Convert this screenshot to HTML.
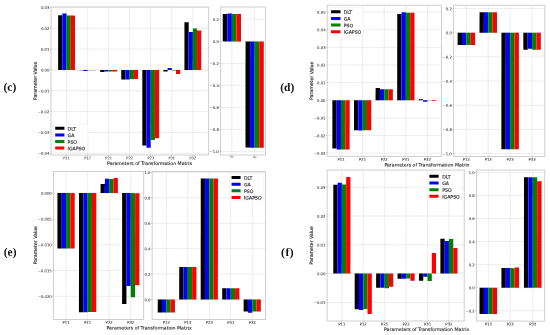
<!DOCTYPE html>
<html lang="en"><head><meta charset="utf-8"><title>Parameters of Transformation Matrix</title>
<style>
html,body{margin:0;padding:0;background:#fff;}
body{width:550px;height:335px;overflow:hidden;}
svg{display:block;}
svg text{font-family:"DejaVu Sans","Liberation Sans",sans-serif;fill:#2e2e2e;text-rendering:geometricPrecision;stroke:#2e2e2e;stroke-width:0.14px;}
svg text.tk{stroke:#333;stroke-width:0.06px;fill:#333;}
svg text.pl{font-family:"Liberation Serif","DejaVu Serif",serif;font-weight:bold;font-size:11.5px;fill:#111;stroke:none;}
</style></head><body>
<svg width="550" height="335" viewBox="0 0 550 335">
<rect width="550" height="335" fill="#fff"/>
<g transform="rotate(0.03 275 167)">
<g><line x1="66.5" y1="7" x2="66.5" y2="155" stroke="#e9e9e9" stroke-width="0.8"/>
<line x1="87.55" y1="7" x2="87.55" y2="155" stroke="#e9e9e9" stroke-width="0.8"/>
<line x1="108.6" y1="7" x2="108.6" y2="155" stroke="#e9e9e9" stroke-width="0.8"/>
<line x1="129.65" y1="7" x2="129.65" y2="155" stroke="#e9e9e9" stroke-width="0.8"/>
<line x1="150.7" y1="7" x2="150.7" y2="155" stroke="#e9e9e9" stroke-width="0.8"/>
<line x1="171.75" y1="7" x2="171.75" y2="155" stroke="#e9e9e9" stroke-width="0.8"/>
<line x1="192.8" y1="7" x2="192.8" y2="155" stroke="#e9e9e9" stroke-width="0.8"/>
<line x1="51" y1="7.51" x2="208.6" y2="7.51" stroke="#e9e9e9" stroke-width="0.8"/>
<line x1="51" y1="28.34" x2="208.6" y2="28.34" stroke="#e9e9e9" stroke-width="0.8"/>
<line x1="51" y1="49.17" x2="208.6" y2="49.17" stroke="#e9e9e9" stroke-width="0.8"/>
<line x1="51" y1="70" x2="208.6" y2="70" stroke="#e9e9e9" stroke-width="0.8"/>
<line x1="51" y1="90.83" x2="208.6" y2="90.83" stroke="#e9e9e9" stroke-width="0.8"/>
<line x1="51" y1="111.66" x2="208.6" y2="111.66" stroke="#e9e9e9" stroke-width="0.8"/>
<line x1="51" y1="132.49" x2="208.6" y2="132.49" stroke="#e9e9e9" stroke-width="0.8"/>
<line x1="51" y1="153.32" x2="208.6" y2="153.32" stroke="#e9e9e9" stroke-width="0.8"/>
<rect x="58.08" y="15.4" width="4.21" height="54.6" fill="#000000"/>
<rect x="62.29" y="13.6" width="4.21" height="56.4" fill="#0000ff"/>
<rect x="66.5" y="15.6" width="4.21" height="54.4" fill="#008000"/>
<rect x="70.71" y="15.6" width="4.21" height="54.4" fill="#ff0000"/>
<rect x="79.13" y="70" width="4.21" height="0.25" fill="#000000"/>
<rect x="83.34" y="70" width="4.21" height="1.2" fill="#0000ff"/>
<rect x="87.55" y="70" width="4.21" height="0.45" fill="#008000"/>
<rect x="91.76" y="70" width="4.21" height="0.45" fill="#ff0000"/>
<rect x="100.18" y="70" width="4.21" height="2" fill="#000000"/>
<rect x="104.39" y="70" width="4.21" height="1.6" fill="#0000ff"/>
<rect x="108.6" y="70" width="4.21" height="1.6" fill="#008000"/>
<rect x="112.81" y="70" width="4.21" height="1.6" fill="#ff0000"/>
<rect x="121.23" y="70" width="4.21" height="9.6" fill="#000000"/>
<rect x="125.44" y="70" width="4.21" height="9.6" fill="#0000ff"/>
<rect x="129.65" y="70" width="4.21" height="9.2" fill="#008000"/>
<rect x="133.86" y="70" width="4.21" height="9" fill="#ff0000"/>
<rect x="142.28" y="70" width="4.21" height="75.6" fill="#000000"/>
<rect x="146.49" y="70" width="4.21" height="77.8" fill="#0000ff"/>
<rect x="150.7" y="70" width="4.21" height="70" fill="#008000"/>
<rect x="154.91" y="70" width="4.21" height="68.2" fill="#ff0000"/>
<rect x="163.33" y="70" width="4.21" height="1.5" fill="#000000"/>
<rect x="167.54" y="68" width="4.21" height="2" fill="#0000ff"/>
<rect x="171.75" y="70" width="4.21" height="0.5" fill="#008000"/>
<rect x="175.96" y="70" width="4.21" height="4" fill="#ff0000"/>
<rect x="184.38" y="22.4" width="4.21" height="47.6" fill="#000000"/>
<rect x="188.59" y="32" width="4.21" height="38" fill="#0000ff"/>
<rect x="192.8" y="28.6" width="4.21" height="41.4" fill="#008000"/>
<rect x="197.01" y="30.6" width="4.21" height="39.4" fill="#ff0000"/>
<rect x="51" y="7" width="157.6" height="148" fill="none" stroke="#cfcfcf" stroke-width="1"/>
<line x1="49.6" y1="7.51" x2="51" y2="7.51" stroke="#999" stroke-width="0.4"/>
<text x="49.3" y="9.18" class="tk" font-size="3.8" text-anchor="end">0.03</text>
<line x1="49.6" y1="28.34" x2="51" y2="28.34" stroke="#999" stroke-width="0.4"/>
<text x="49.3" y="30.01" class="tk" font-size="3.8" text-anchor="end">0.02</text>
<line x1="49.6" y1="49.17" x2="51" y2="49.17" stroke="#999" stroke-width="0.4"/>
<text x="49.3" y="50.84" class="tk" font-size="3.8" text-anchor="end">0.01</text>
<line x1="49.6" y1="70" x2="51" y2="70" stroke="#999" stroke-width="0.4"/>
<text x="49.3" y="71.67" class="tk" font-size="3.8" text-anchor="end">0.00</text>
<line x1="49.6" y1="90.83" x2="51" y2="90.83" stroke="#999" stroke-width="0.4"/>
<text x="49.3" y="92.5" class="tk" font-size="3.8" text-anchor="end">−0.01</text>
<line x1="49.6" y1="111.66" x2="51" y2="111.66" stroke="#999" stroke-width="0.4"/>
<text x="49.3" y="113.33" class="tk" font-size="3.8" text-anchor="end">−0.02</text>
<line x1="49.6" y1="132.49" x2="51" y2="132.49" stroke="#999" stroke-width="0.4"/>
<text x="49.3" y="134.16" class="tk" font-size="3.8" text-anchor="end">−0.03</text>
<line x1="49.6" y1="153.32" x2="51" y2="153.32" stroke="#999" stroke-width="0.4"/>
<text x="49.3" y="154.99" class="tk" font-size="3.8" text-anchor="end">−0.04</text>
<line x1="66.5" y1="155" x2="66.5" y2="156.4" stroke="#999" stroke-width="0.4"/>
<text x="66.5" y="159.31" class="tk" font-size="3.5" text-anchor="middle">P11</text>
<line x1="87.55" y1="155" x2="87.55" y2="156.4" stroke="#999" stroke-width="0.4"/>
<text x="87.55" y="159.31" class="tk" font-size="3.5" text-anchor="middle">P12</text>
<line x1="108.6" y1="155" x2="108.6" y2="156.4" stroke="#999" stroke-width="0.4"/>
<text x="108.6" y="159.31" class="tk" font-size="3.5" text-anchor="middle">P21</text>
<line x1="129.65" y1="155" x2="129.65" y2="156.4" stroke="#999" stroke-width="0.4"/>
<text x="129.65" y="159.31" class="tk" font-size="3.5" text-anchor="middle">P22</text>
<line x1="150.7" y1="155" x2="150.7" y2="156.4" stroke="#999" stroke-width="0.4"/>
<text x="150.7" y="159.31" class="tk" font-size="3.5" text-anchor="middle">P23</text>
<line x1="171.75" y1="155" x2="171.75" y2="156.4" stroke="#999" stroke-width="0.4"/>
<text x="171.75" y="159.31" class="tk" font-size="3.5" text-anchor="middle">P31</text>
<line x1="192.8" y1="155" x2="192.8" y2="156.4" stroke="#999" stroke-width="0.4"/>
<text x="192.8" y="159.31" class="tk" font-size="3.5" text-anchor="middle">P32</text>
<rect x="53.4" y="124.4" width="34.6" height="28.2" rx="1" fill="#fff" fill-opacity="0.85" stroke="#ececec" stroke-width="0.5"/>
<rect x="55.2" y="126.9" width="9.2" height="3" fill="#000000"/>
<text x="67.6" y="130.58" font-size="4.68">DLT</text>
<rect x="55.2" y="133.5" width="9.2" height="3" fill="#0000ff"/>
<text x="67.6" y="137.18" font-size="4.68">GA</text>
<rect x="55.2" y="140.1" width="9.2" height="3" fill="#008000"/>
<text x="67.6" y="143.78" font-size="4.68">PSO</text>
<rect x="55.2" y="146.7" width="9.2" height="3" fill="#ff0000"/>
<text x="67.6" y="150.38" font-size="4.68">IGAPSO</text></g>
<g><line x1="231.8" y1="7" x2="231.8" y2="155" stroke="#e9e9e9" stroke-width="0.8"/>
<line x1="254.6" y1="7" x2="254.6" y2="155" stroke="#e9e9e9" stroke-width="0.8"/>
<line x1="220.5" y1="19.4" x2="265.5" y2="19.4" stroke="#e9e9e9" stroke-width="0.8"/>
<line x1="220.5" y1="41.4" x2="265.5" y2="41.4" stroke="#e9e9e9" stroke-width="0.8"/>
<line x1="220.5" y1="63.4" x2="265.5" y2="63.4" stroke="#e9e9e9" stroke-width="0.8"/>
<line x1="220.5" y1="85.4" x2="265.5" y2="85.4" stroke="#e9e9e9" stroke-width="0.8"/>
<line x1="220.5" y1="107.4" x2="265.5" y2="107.4" stroke="#e9e9e9" stroke-width="0.8"/>
<line x1="220.5" y1="129.4" x2="265.5" y2="129.4" stroke="#e9e9e9" stroke-width="0.8"/>
<line x1="220.5" y1="151.4" x2="265.5" y2="151.4" stroke="#e9e9e9" stroke-width="0.8"/>
<rect x="222.68" y="14" width="4.56" height="27.4" fill="#000000"/>
<rect x="227.24" y="13.6" width="4.56" height="27.8" fill="#0000ff"/>
<rect x="231.8" y="14" width="4.56" height="27.4" fill="#008000"/>
<rect x="236.36" y="14" width="4.56" height="27.4" fill="#ff0000"/>
<rect x="245.48" y="41.4" width="4.56" height="106.2" fill="#000000"/>
<rect x="250.04" y="41.4" width="4.56" height="106.4" fill="#0000ff"/>
<rect x="254.6" y="41.4" width="4.56" height="106.4" fill="#008000"/>
<rect x="259.16" y="41.4" width="4.56" height="106.4" fill="#ff0000"/>
<rect x="220.5" y="7" width="45" height="148" fill="none" stroke="#cfcfcf" stroke-width="1"/>
<line x1="219.1" y1="19.4" x2="220.5" y2="19.4" stroke="#999" stroke-width="0.4"/>
<text x="218.8" y="21.07" class="tk" font-size="3.8" text-anchor="end">0.2</text>
<line x1="219.1" y1="41.4" x2="220.5" y2="41.4" stroke="#999" stroke-width="0.4"/>
<text x="218.8" y="43.07" class="tk" font-size="3.8" text-anchor="end">0.0</text>
<line x1="219.1" y1="63.4" x2="220.5" y2="63.4" stroke="#999" stroke-width="0.4"/>
<text x="218.8" y="65.07" class="tk" font-size="3.8" text-anchor="end">−0.2</text>
<line x1="219.1" y1="85.4" x2="220.5" y2="85.4" stroke="#999" stroke-width="0.4"/>
<text x="218.8" y="87.07" class="tk" font-size="3.8" text-anchor="end">−0.4</text>
<line x1="219.1" y1="107.4" x2="220.5" y2="107.4" stroke="#999" stroke-width="0.4"/>
<text x="218.8" y="109.07" class="tk" font-size="3.8" text-anchor="end">−0.6</text>
<line x1="219.1" y1="129.4" x2="220.5" y2="129.4" stroke="#999" stroke-width="0.4"/>
<text x="218.8" y="131.07" class="tk" font-size="3.8" text-anchor="end">−0.8</text>
<line x1="219.1" y1="151.4" x2="220.5" y2="151.4" stroke="#999" stroke-width="0.4"/>
<text x="218.8" y="153.07" class="tk" font-size="3.8" text-anchor="end">−1.0</text>
<line x1="231.8" y1="155" x2="231.8" y2="156.4" stroke="#999" stroke-width="0.4"/>
<text x="231.8" y="157.65" class="tk" font-size="1.8" text-anchor="middle">P13</text>
<line x1="254.6" y1="155" x2="254.6" y2="156.4" stroke="#999" stroke-width="0.4"/>
<text x="254.6" y="157.65" class="tk" font-size="1.8" text-anchor="middle">P33</text></g>
<g><line x1="341" y1="5.2" x2="341" y2="156.3" stroke="#e9e9e9" stroke-width="0.8"/>
<line x1="362.6" y1="5.2" x2="362.6" y2="156.3" stroke="#e9e9e9" stroke-width="0.8"/>
<line x1="384.2" y1="5.2" x2="384.2" y2="156.3" stroke="#e9e9e9" stroke-width="0.8"/>
<line x1="405.8" y1="5.2" x2="405.8" y2="156.3" stroke="#e9e9e9" stroke-width="0.8"/>
<line x1="427.4" y1="5.2" x2="427.4" y2="156.3" stroke="#e9e9e9" stroke-width="0.8"/>
<line x1="327.2" y1="12" x2="441.4" y2="12" stroke="#e9e9e9" stroke-width="0.8"/>
<line x1="327.2" y1="29.64" x2="441.4" y2="29.64" stroke="#e9e9e9" stroke-width="0.8"/>
<line x1="327.2" y1="47.28" x2="441.4" y2="47.28" stroke="#e9e9e9" stroke-width="0.8"/>
<line x1="327.2" y1="64.92" x2="441.4" y2="64.92" stroke="#e9e9e9" stroke-width="0.8"/>
<line x1="327.2" y1="82.56" x2="441.4" y2="82.56" stroke="#e9e9e9" stroke-width="0.8"/>
<line x1="327.2" y1="100.2" x2="441.4" y2="100.2" stroke="#e9e9e9" stroke-width="0.8"/>
<line x1="327.2" y1="117.84" x2="441.4" y2="117.84" stroke="#e9e9e9" stroke-width="0.8"/>
<line x1="327.2" y1="135.48" x2="441.4" y2="135.48" stroke="#e9e9e9" stroke-width="0.8"/>
<line x1="327.2" y1="153.12" x2="441.4" y2="153.12" stroke="#e9e9e9" stroke-width="0.8"/>
<rect x="332.36" y="100.2" width="4.32" height="48.2" fill="#000000"/>
<rect x="336.68" y="100.2" width="4.32" height="49.2" fill="#0000ff"/>
<rect x="341" y="100.2" width="4.32" height="49.2" fill="#008000"/>
<rect x="345.32" y="100.2" width="4.32" height="49.2" fill="#ff0000"/>
<rect x="353.96" y="100.2" width="4.32" height="30" fill="#000000"/>
<rect x="358.28" y="100.2" width="4.32" height="30.2" fill="#0000ff"/>
<rect x="362.6" y="100.2" width="4.32" height="30" fill="#008000"/>
<rect x="366.92" y="100.2" width="4.32" height="30" fill="#ff0000"/>
<rect x="375.56" y="88" width="4.32" height="12.2" fill="#000000"/>
<rect x="379.88" y="89.2" width="4.32" height="11" fill="#0000ff"/>
<rect x="384.2" y="89.2" width="4.32" height="11" fill="#008000"/>
<rect x="388.52" y="89.2" width="4.32" height="11" fill="#ff0000"/>
<rect x="397.16" y="14" width="4.32" height="86.2" fill="#000000"/>
<rect x="401.48" y="12.2" width="4.32" height="88" fill="#0000ff"/>
<rect x="405.8" y="12.6" width="4.32" height="87.6" fill="#008000"/>
<rect x="410.12" y="12.6" width="4.32" height="87.6" fill="#ff0000"/>
<rect x="418.76" y="99.2" width="4.32" height="1" fill="#000000"/>
<rect x="423.08" y="100.2" width="4.32" height="1.4" fill="#0000ff"/>
<rect x="427.4" y="100.2" width="4.32" height="0.1" fill="#008000"/>
<rect x="431.72" y="100.2" width="4.32" height="0.8" fill="#ff0000"/>
<rect x="327.2" y="5.2" width="114.2" height="151.1" fill="none" stroke="#cfcfcf" stroke-width="1"/>
<line x1="325.8" y1="12" x2="327.2" y2="12" stroke="#999" stroke-width="0.4"/>
<text x="325.5" y="13.67" class="tk" font-size="3.8" text-anchor="end">0.05</text>
<line x1="325.8" y1="29.64" x2="327.2" y2="29.64" stroke="#999" stroke-width="0.4"/>
<text x="325.5" y="31.31" class="tk" font-size="3.8" text-anchor="end">0.04</text>
<line x1="325.8" y1="47.28" x2="327.2" y2="47.28" stroke="#999" stroke-width="0.4"/>
<text x="325.5" y="48.95" class="tk" font-size="3.8" text-anchor="end">0.03</text>
<line x1="325.8" y1="64.92" x2="327.2" y2="64.92" stroke="#999" stroke-width="0.4"/>
<text x="325.5" y="66.59" class="tk" font-size="3.8" text-anchor="end">0.02</text>
<line x1="325.8" y1="82.56" x2="327.2" y2="82.56" stroke="#999" stroke-width="0.4"/>
<text x="325.5" y="84.23" class="tk" font-size="3.8" text-anchor="end">0.01</text>
<line x1="325.8" y1="100.2" x2="327.2" y2="100.2" stroke="#999" stroke-width="0.4"/>
<text x="325.5" y="101.87" class="tk" font-size="3.8" text-anchor="end">0.00</text>
<line x1="325.8" y1="117.84" x2="327.2" y2="117.84" stroke="#999" stroke-width="0.4"/>
<text x="325.5" y="119.51" class="tk" font-size="3.8" text-anchor="end">−0.01</text>
<line x1="325.8" y1="135.48" x2="327.2" y2="135.48" stroke="#999" stroke-width="0.4"/>
<text x="325.5" y="137.15" class="tk" font-size="3.8" text-anchor="end">−0.02</text>
<line x1="325.8" y1="153.12" x2="327.2" y2="153.12" stroke="#999" stroke-width="0.4"/>
<text x="325.5" y="154.79" class="tk" font-size="3.8" text-anchor="end">−0.03</text>
<line x1="341" y1="156.3" x2="341" y2="157.7" stroke="#999" stroke-width="0.4"/>
<text x="341" y="160.72" class="tk" font-size="3.8" text-anchor="middle">P11</text>
<line x1="362.6" y1="156.3" x2="362.6" y2="157.7" stroke="#999" stroke-width="0.4"/>
<text x="362.6" y="160.72" class="tk" font-size="3.8" text-anchor="middle">P21</text>
<line x1="384.2" y1="156.3" x2="384.2" y2="157.7" stroke="#999" stroke-width="0.4"/>
<text x="384.2" y="160.72" class="tk" font-size="3.8" text-anchor="middle">P22</text>
<line x1="405.8" y1="156.3" x2="405.8" y2="157.7" stroke="#999" stroke-width="0.4"/>
<text x="405.8" y="160.72" class="tk" font-size="3.8" text-anchor="middle">P31</text>
<line x1="427.4" y1="156.3" x2="427.4" y2="157.7" stroke="#999" stroke-width="0.4"/>
<text x="427.4" y="160.72" class="tk" font-size="3.8" text-anchor="middle">P32</text>
<rect x="329.4" y="7.4" width="34" height="28.2" rx="1" fill="#fff" fill-opacity="0.85" stroke="#ececec" stroke-width="0.5"/>
<rect x="331" y="10.1" width="9.4" height="3" fill="#000000"/>
<text x="343.6" y="13.78" font-size="4.68">DLT</text>
<rect x="331" y="16.9" width="9.4" height="3" fill="#0000ff"/>
<text x="343.6" y="20.58" font-size="4.68">GA</text>
<rect x="331" y="23.5" width="9.4" height="3" fill="#008000"/>
<text x="343.6" y="27.18" font-size="4.68">PSO</text>
<rect x="331" y="30.1" width="9.4" height="3" fill="#ff0000"/>
<text x="343.6" y="33.78" font-size="4.68">IGAPSO</text></g>
<g><line x1="466.3" y1="5.2" x2="466.3" y2="156.3" stroke="#e9e9e9" stroke-width="0.8"/>
<line x1="488.2" y1="5.2" x2="488.2" y2="156.3" stroke="#e9e9e9" stroke-width="0.8"/>
<line x1="510.1" y1="5.2" x2="510.1" y2="156.3" stroke="#e9e9e9" stroke-width="0.8"/>
<line x1="532" y1="5.2" x2="532" y2="156.3" stroke="#e9e9e9" stroke-width="0.8"/>
<line x1="453.5" y1="8.44" x2="544.7" y2="8.44" stroke="#e9e9e9" stroke-width="0.8"/>
<line x1="453.5" y1="32.6" x2="544.7" y2="32.6" stroke="#e9e9e9" stroke-width="0.8"/>
<line x1="453.5" y1="56.76" x2="544.7" y2="56.76" stroke="#e9e9e9" stroke-width="0.8"/>
<line x1="453.5" y1="80.92" x2="544.7" y2="80.92" stroke="#e9e9e9" stroke-width="0.8"/>
<line x1="453.5" y1="105.08" x2="544.7" y2="105.08" stroke="#e9e9e9" stroke-width="0.8"/>
<line x1="453.5" y1="129.24" x2="544.7" y2="129.24" stroke="#e9e9e9" stroke-width="0.8"/>
<line x1="453.5" y1="153.4" x2="544.7" y2="153.4" stroke="#e9e9e9" stroke-width="0.8"/>
<rect x="457.56" y="32.6" width="4.37" height="12.2" fill="#000000"/>
<rect x="461.93" y="32.6" width="4.37" height="12.2" fill="#0000ff"/>
<rect x="466.3" y="32.6" width="4.37" height="12.2" fill="#008000"/>
<rect x="470.67" y="32.6" width="4.37" height="12.2" fill="#ff0000"/>
<rect x="479.46" y="12.2" width="4.37" height="20.4" fill="#000000"/>
<rect x="483.83" y="12.2" width="4.37" height="20.4" fill="#0000ff"/>
<rect x="488.2" y="12.2" width="4.37" height="20.4" fill="#008000"/>
<rect x="492.57" y="12.2" width="4.37" height="20.4" fill="#ff0000"/>
<rect x="501.36" y="32.6" width="4.37" height="116.6" fill="#000000"/>
<rect x="505.73" y="32.6" width="4.37" height="116.6" fill="#0000ff"/>
<rect x="510.1" y="32.6" width="4.37" height="116.6" fill="#008000"/>
<rect x="514.47" y="32.6" width="4.37" height="116.6" fill="#ff0000"/>
<rect x="523.26" y="32.6" width="4.37" height="17" fill="#000000"/>
<rect x="527.63" y="32.6" width="4.37" height="16" fill="#0000ff"/>
<rect x="532" y="32.6" width="4.37" height="17" fill="#008000"/>
<rect x="536.37" y="32.6" width="4.37" height="17" fill="#ff0000"/>
<rect x="453.5" y="5.2" width="91.2" height="151.1" fill="none" stroke="#cfcfcf" stroke-width="1"/>
<line x1="452.1" y1="8.44" x2="453.5" y2="8.44" stroke="#999" stroke-width="0.4"/>
<text x="451.8" y="10.11" class="tk" font-size="3.8" text-anchor="end">0.2</text>
<line x1="452.1" y1="32.6" x2="453.5" y2="32.6" stroke="#999" stroke-width="0.4"/>
<text x="451.8" y="34.27" class="tk" font-size="3.8" text-anchor="end">0.0</text>
<line x1="452.1" y1="56.76" x2="453.5" y2="56.76" stroke="#999" stroke-width="0.4"/>
<text x="451.8" y="58.43" class="tk" font-size="3.8" text-anchor="end">−0.2</text>
<line x1="452.1" y1="80.92" x2="453.5" y2="80.92" stroke="#999" stroke-width="0.4"/>
<text x="451.8" y="82.59" class="tk" font-size="3.8" text-anchor="end">−0.4</text>
<line x1="452.1" y1="105.08" x2="453.5" y2="105.08" stroke="#999" stroke-width="0.4"/>
<text x="451.8" y="106.75" class="tk" font-size="3.8" text-anchor="end">−0.6</text>
<line x1="452.1" y1="129.24" x2="453.5" y2="129.24" stroke="#999" stroke-width="0.4"/>
<text x="451.8" y="130.91" class="tk" font-size="3.8" text-anchor="end">−0.8</text>
<line x1="452.1" y1="153.4" x2="453.5" y2="153.4" stroke="#999" stroke-width="0.4"/>
<text x="451.8" y="155.07" class="tk" font-size="3.8" text-anchor="end">−1.0</text>
<line x1="466.3" y1="156.3" x2="466.3" y2="157.7" stroke="#999" stroke-width="0.4"/>
<text x="466.3" y="160.72" class="tk" font-size="3.8" text-anchor="middle">P12</text>
<line x1="488.2" y1="156.3" x2="488.2" y2="157.7" stroke="#999" stroke-width="0.4"/>
<text x="488.2" y="160.72" class="tk" font-size="3.8" text-anchor="middle">P13</text>
<line x1="510.1" y1="156.3" x2="510.1" y2="157.7" stroke="#999" stroke-width="0.4"/>
<text x="510.1" y="160.72" class="tk" font-size="3.8" text-anchor="middle">P23</text>
<line x1="532" y1="156.3" x2="532" y2="157.7" stroke="#999" stroke-width="0.4"/>
<text x="532" y="160.72" class="tk" font-size="3.8" text-anchor="middle">P33</text></g>
<g><line x1="66.1" y1="171.5" x2="66.1" y2="319.5" stroke="#e9e9e9" stroke-width="0.8"/>
<line x1="87.67" y1="171.5" x2="87.67" y2="319.5" stroke="#e9e9e9" stroke-width="0.8"/>
<line x1="109.24" y1="171.5" x2="109.24" y2="319.5" stroke="#e9e9e9" stroke-width="0.8"/>
<line x1="130.81" y1="171.5" x2="130.81" y2="319.5" stroke="#e9e9e9" stroke-width="0.8"/>
<line x1="53.5" y1="193.2" x2="143.7" y2="193.2" stroke="#e9e9e9" stroke-width="0.8"/>
<line x1="53.5" y1="219" x2="143.7" y2="219" stroke="#e9e9e9" stroke-width="0.8"/>
<line x1="53.5" y1="244.8" x2="143.7" y2="244.8" stroke="#e9e9e9" stroke-width="0.8"/>
<line x1="53.5" y1="270.6" x2="143.7" y2="270.6" stroke="#e9e9e9" stroke-width="0.8"/>
<line x1="53.5" y1="296.4" x2="143.7" y2="296.4" stroke="#e9e9e9" stroke-width="0.8"/>
<rect x="57.46" y="193.2" width="4.32" height="55.4" fill="#000000"/>
<rect x="61.78" y="193.2" width="4.32" height="55.4" fill="#0000ff"/>
<rect x="66.1" y="193.2" width="4.32" height="55.4" fill="#008000"/>
<rect x="70.42" y="193.2" width="4.32" height="55.4" fill="#ff0000"/>
<rect x="79.03" y="193.2" width="4.32" height="119.2" fill="#000000"/>
<rect x="83.35" y="193.2" width="4.32" height="119.2" fill="#0000ff"/>
<rect x="87.67" y="193.2" width="4.32" height="118.8" fill="#008000"/>
<rect x="91.99" y="193.2" width="4.32" height="118.8" fill="#ff0000"/>
<rect x="100.6" y="184.2" width="4.32" height="9" fill="#000000"/>
<rect x="104.92" y="178.8" width="4.32" height="14.4" fill="#0000ff"/>
<rect x="109.24" y="179.2" width="4.32" height="14" fill="#008000"/>
<rect x="113.56" y="178.2" width="4.32" height="15" fill="#ff0000"/>
<rect x="122.17" y="193.2" width="4.32" height="111" fill="#000000"/>
<rect x="126.49" y="193.2" width="4.32" height="92.8" fill="#0000ff"/>
<rect x="130.81" y="193.2" width="4.32" height="104.2" fill="#008000"/>
<rect x="135.13" y="193.2" width="4.32" height="92.2" fill="#ff0000"/>
<rect x="53.5" y="171.5" width="90.2" height="148" fill="none" stroke="#cfcfcf" stroke-width="1"/>
<line x1="52.1" y1="193.2" x2="53.5" y2="193.2" stroke="#999" stroke-width="0.4"/>
<text x="51.8" y="194.87" class="tk" font-size="3.8" text-anchor="end">0.000</text>
<line x1="52.1" y1="219" x2="53.5" y2="219" stroke="#999" stroke-width="0.4"/>
<text x="51.8" y="220.67" class="tk" font-size="3.8" text-anchor="end">−0.005</text>
<line x1="52.1" y1="244.8" x2="53.5" y2="244.8" stroke="#999" stroke-width="0.4"/>
<text x="51.8" y="246.47" class="tk" font-size="3.8" text-anchor="end">−0.010</text>
<line x1="52.1" y1="270.6" x2="53.5" y2="270.6" stroke="#999" stroke-width="0.4"/>
<text x="51.8" y="272.27" class="tk" font-size="3.8" text-anchor="end">−0.015</text>
<line x1="52.1" y1="296.4" x2="53.5" y2="296.4" stroke="#999" stroke-width="0.4"/>
<text x="51.8" y="298.07" class="tk" font-size="3.8" text-anchor="end">−0.020</text>
<line x1="66.1" y1="319.5" x2="66.1" y2="320.9" stroke="#999" stroke-width="0.4"/>
<text x="66.1" y="323.92" class="tk" font-size="3.8" text-anchor="middle">P11</text>
<line x1="87.67" y1="319.5" x2="87.67" y2="320.9" stroke="#999" stroke-width="0.4"/>
<text x="87.67" y="323.92" class="tk" font-size="3.8" text-anchor="middle">P21</text>
<line x1="109.24" y1="319.5" x2="109.24" y2="320.9" stroke="#999" stroke-width="0.4"/>
<text x="109.24" y="323.92" class="tk" font-size="3.8" text-anchor="middle">P22</text>
<line x1="130.81" y1="319.5" x2="130.81" y2="320.9" stroke="#999" stroke-width="0.4"/>
<text x="130.81" y="323.92" class="tk" font-size="3.8" text-anchor="middle">P32</text></g>
<g><line x1="166.4" y1="171.5" x2="166.4" y2="319.5" stroke="#e9e9e9" stroke-width="0.8"/>
<line x1="187.88" y1="171.5" x2="187.88" y2="319.5" stroke="#e9e9e9" stroke-width="0.8"/>
<line x1="209.36" y1="171.5" x2="209.36" y2="319.5" stroke="#e9e9e9" stroke-width="0.8"/>
<line x1="230.84" y1="171.5" x2="230.84" y2="319.5" stroke="#e9e9e9" stroke-width="0.8"/>
<line x1="252.32" y1="171.5" x2="252.32" y2="319.5" stroke="#e9e9e9" stroke-width="0.8"/>
<line x1="152.2" y1="172.4" x2="265.6" y2="172.4" stroke="#e9e9e9" stroke-width="0.8"/>
<line x1="152.2" y1="197.84" x2="265.6" y2="197.84" stroke="#e9e9e9" stroke-width="0.8"/>
<line x1="152.2" y1="223.28" x2="265.6" y2="223.28" stroke="#e9e9e9" stroke-width="0.8"/>
<line x1="152.2" y1="248.72" x2="265.6" y2="248.72" stroke="#e9e9e9" stroke-width="0.8"/>
<line x1="152.2" y1="274.16" x2="265.6" y2="274.16" stroke="#e9e9e9" stroke-width="0.8"/>
<line x1="152.2" y1="299.6" x2="265.6" y2="299.6" stroke="#e9e9e9" stroke-width="0.8"/>
<rect x="157.8" y="299.6" width="4.3" height="13" fill="#000000"/>
<rect x="162.1" y="299.6" width="4.3" height="13" fill="#0000ff"/>
<rect x="166.4" y="299.6" width="4.3" height="13" fill="#008000"/>
<rect x="170.7" y="299.6" width="4.3" height="13" fill="#ff0000"/>
<rect x="179.28" y="267" width="4.3" height="32.6" fill="#000000"/>
<rect x="183.58" y="267" width="4.3" height="32.6" fill="#0000ff"/>
<rect x="187.88" y="267" width="4.3" height="32.6" fill="#008000"/>
<rect x="192.18" y="267" width="4.3" height="32.6" fill="#ff0000"/>
<rect x="200.76" y="178.6" width="4.3" height="121" fill="#000000"/>
<rect x="205.06" y="178.6" width="4.3" height="121" fill="#0000ff"/>
<rect x="209.36" y="178.6" width="4.3" height="121" fill="#008000"/>
<rect x="213.66" y="178.6" width="4.3" height="121" fill="#ff0000"/>
<rect x="222.24" y="288.2" width="4.3" height="11.4" fill="#000000"/>
<rect x="226.54" y="288.2" width="4.3" height="11.4" fill="#0000ff"/>
<rect x="230.84" y="288.2" width="4.3" height="11.4" fill="#008000"/>
<rect x="235.14" y="288.2" width="4.3" height="11.4" fill="#ff0000"/>
<rect x="243.72" y="299.6" width="4.3" height="12" fill="#000000"/>
<rect x="248.02" y="299.6" width="4.3" height="13.2" fill="#0000ff"/>
<rect x="252.32" y="299.6" width="4.3" height="11.8" fill="#008000"/>
<rect x="256.62" y="299.6" width="4.3" height="11.8" fill="#ff0000"/>
<rect x="152.2" y="171.5" width="113.4" height="148" fill="none" stroke="#cfcfcf" stroke-width="1"/>
<line x1="150.8" y1="172.4" x2="152.2" y2="172.4" stroke="#999" stroke-width="0.4"/>
<text x="150.5" y="174.07" class="tk" font-size="3.8" text-anchor="end">1.0</text>
<line x1="150.8" y1="197.84" x2="152.2" y2="197.84" stroke="#999" stroke-width="0.4"/>
<text x="150.5" y="199.51" class="tk" font-size="3.8" text-anchor="end">0.8</text>
<line x1="150.8" y1="223.28" x2="152.2" y2="223.28" stroke="#999" stroke-width="0.4"/>
<text x="150.5" y="224.95" class="tk" font-size="3.8" text-anchor="end">0.6</text>
<line x1="150.8" y1="248.72" x2="152.2" y2="248.72" stroke="#999" stroke-width="0.4"/>
<text x="150.5" y="250.39" class="tk" font-size="3.8" text-anchor="end">0.4</text>
<line x1="150.8" y1="274.16" x2="152.2" y2="274.16" stroke="#999" stroke-width="0.4"/>
<text x="150.5" y="275.83" class="tk" font-size="3.8" text-anchor="end">0.2</text>
<line x1="150.8" y1="299.6" x2="152.2" y2="299.6" stroke="#999" stroke-width="0.4"/>
<text x="150.5" y="301.27" class="tk" font-size="3.8" text-anchor="end">0.0</text>
<line x1="166.4" y1="319.5" x2="166.4" y2="320.9" stroke="#999" stroke-width="0.4"/>
<text x="166.4" y="323.92" class="tk" font-size="3.8" text-anchor="middle">P12</text>
<line x1="187.88" y1="319.5" x2="187.88" y2="320.9" stroke="#999" stroke-width="0.4"/>
<text x="187.88" y="323.92" class="tk" font-size="3.8" text-anchor="middle">P13</text>
<line x1="209.36" y1="319.5" x2="209.36" y2="320.9" stroke="#999" stroke-width="0.4"/>
<text x="209.36" y="323.92" class="tk" font-size="3.8" text-anchor="middle">P23</text>
<line x1="230.84" y1="319.5" x2="230.84" y2="320.9" stroke="#999" stroke-width="0.4"/>
<text x="230.84" y="323.92" class="tk" font-size="3.8" text-anchor="middle">P31</text>
<line x1="252.32" y1="319.5" x2="252.32" y2="320.9" stroke="#999" stroke-width="0.4"/>
<text x="252.32" y="323.92" class="tk" font-size="3.8" text-anchor="middle">P33</text>
<rect x="229.6" y="173.4" width="34.4" height="27.8" rx="1" fill="#fff" fill-opacity="0.85" stroke="#ececec" stroke-width="0.5"/>
<rect x="231.6" y="176.1" width="9" height="3" fill="#000000"/>
<text x="244" y="179.78" font-size="4.68">DLT</text>
<rect x="231.6" y="182.7" width="9" height="3" fill="#0000ff"/>
<text x="244" y="186.38" font-size="4.68">GA</text>
<rect x="231.6" y="189.3" width="9" height="3" fill="#008000"/>
<text x="244" y="192.98" font-size="4.68">PSO</text>
<rect x="231.6" y="195.9" width="9" height="3" fill="#ff0000"/>
<text x="244" y="199.58" font-size="4.68">IGAPSO</text></g>
<g><line x1="341.9" y1="169.9" x2="341.9" y2="321" stroke="#e9e9e9" stroke-width="0.8"/>
<line x1="363.32" y1="169.9" x2="363.32" y2="321" stroke="#e9e9e9" stroke-width="0.8"/>
<line x1="384.74" y1="169.9" x2="384.74" y2="321" stroke="#e9e9e9" stroke-width="0.8"/>
<line x1="406.16" y1="169.9" x2="406.16" y2="321" stroke="#e9e9e9" stroke-width="0.8"/>
<line x1="427.58" y1="169.9" x2="427.58" y2="321" stroke="#e9e9e9" stroke-width="0.8"/>
<line x1="449" y1="169.9" x2="449" y2="321" stroke="#e9e9e9" stroke-width="0.8"/>
<line x1="327.2" y1="187.19" x2="464.3" y2="187.19" stroke="#e9e9e9" stroke-width="0.8"/>
<line x1="327.2" y1="215.96" x2="464.3" y2="215.96" stroke="#e9e9e9" stroke-width="0.8"/>
<line x1="327.2" y1="244.73" x2="464.3" y2="244.73" stroke="#e9e9e9" stroke-width="0.8"/>
<line x1="327.2" y1="273.5" x2="464.3" y2="273.5" stroke="#e9e9e9" stroke-width="0.8"/>
<line x1="327.2" y1="302.27" x2="464.3" y2="302.27" stroke="#e9e9e9" stroke-width="0.8"/>
<rect x="333.34" y="184.8" width="4.28" height="88.7" fill="#000000"/>
<rect x="337.62" y="182.6" width="4.28" height="90.9" fill="#0000ff"/>
<rect x="341.9" y="184.4" width="4.28" height="89.1" fill="#008000"/>
<rect x="346.18" y="177" width="4.28" height="96.5" fill="#ff0000"/>
<rect x="354.76" y="273.5" width="4.28" height="35.7" fill="#000000"/>
<rect x="359.04" y="273.5" width="4.28" height="36.5" fill="#0000ff"/>
<rect x="363.32" y="273.5" width="4.28" height="35.5" fill="#008000"/>
<rect x="367.6" y="273.5" width="4.28" height="40.5" fill="#ff0000"/>
<rect x="376.18" y="273.5" width="4.28" height="14.1" fill="#000000"/>
<rect x="380.46" y="273.5" width="4.28" height="14.1" fill="#0000ff"/>
<rect x="384.74" y="273.5" width="4.28" height="14.7" fill="#008000"/>
<rect x="389.02" y="273.5" width="4.28" height="13.1" fill="#ff0000"/>
<rect x="397.6" y="273.5" width="4.28" height="5.1" fill="#000000"/>
<rect x="401.88" y="273.5" width="4.28" height="5.1" fill="#0000ff"/>
<rect x="406.16" y="273.5" width="4.28" height="4.9" fill="#008000"/>
<rect x="410.44" y="273.5" width="4.28" height="7.1" fill="#ff0000"/>
<rect x="419.02" y="273.5" width="4.28" height="7.1" fill="#000000"/>
<rect x="423.3" y="273.5" width="4.28" height="3.1" fill="#0000ff"/>
<rect x="427.58" y="273.5" width="4.28" height="7.5" fill="#008000"/>
<rect x="431.86" y="253" width="4.28" height="20.5" fill="#ff0000"/>
<rect x="440.44" y="238.6" width="4.28" height="34.9" fill="#000000"/>
<rect x="444.72" y="241" width="4.28" height="32.5" fill="#0000ff"/>
<rect x="449" y="239" width="4.28" height="34.5" fill="#008000"/>
<rect x="453.28" y="248" width="4.28" height="25.5" fill="#ff0000"/>
<rect x="327.2" y="169.9" width="137.1" height="151.1" fill="none" stroke="#cfcfcf" stroke-width="1"/>
<line x1="325.8" y1="187.19" x2="327.2" y2="187.19" stroke="#999" stroke-width="0.4"/>
<text x="325.5" y="188.86" class="tk" font-size="3.8" text-anchor="end">0.03</text>
<line x1="325.8" y1="215.96" x2="327.2" y2="215.96" stroke="#999" stroke-width="0.4"/>
<text x="325.5" y="217.63" class="tk" font-size="3.8" text-anchor="end">0.02</text>
<line x1="325.8" y1="244.73" x2="327.2" y2="244.73" stroke="#999" stroke-width="0.4"/>
<text x="325.5" y="246.4" class="tk" font-size="3.8" text-anchor="end">0.01</text>
<line x1="325.8" y1="273.5" x2="327.2" y2="273.5" stroke="#999" stroke-width="0.4"/>
<text x="325.5" y="275.17" class="tk" font-size="3.8" text-anchor="end">0.00</text>
<line x1="325.8" y1="302.27" x2="327.2" y2="302.27" stroke="#999" stroke-width="0.4"/>
<text x="325.5" y="303.94" class="tk" font-size="3.8" text-anchor="end">−0.01</text>
<line x1="341.9" y1="321" x2="341.9" y2="322.4" stroke="#999" stroke-width="0.4"/>
<text x="341.9" y="325.42" class="tk" font-size="3.8" text-anchor="middle">P11</text>
<line x1="363.32" y1="321" x2="363.32" y2="322.4" stroke="#999" stroke-width="0.4"/>
<text x="363.32" y="325.42" class="tk" font-size="3.8" text-anchor="middle">P12</text>
<line x1="384.74" y1="321" x2="384.74" y2="322.4" stroke="#999" stroke-width="0.4"/>
<text x="384.74" y="325.42" class="tk" font-size="3.8" text-anchor="middle">P21</text>
<line x1="406.16" y1="321" x2="406.16" y2="322.4" stroke="#999" stroke-width="0.4"/>
<text x="406.16" y="325.42" class="tk" font-size="3.8" text-anchor="middle">P22</text>
<line x1="427.58" y1="321" x2="427.58" y2="322.4" stroke="#999" stroke-width="0.4"/>
<text x="427.58" y="325.42" class="tk" font-size="3.8" text-anchor="middle">P31</text>
<line x1="449" y1="321" x2="449" y2="322.4" stroke="#999" stroke-width="0.4"/>
<text x="449" y="325.42" class="tk" font-size="3.8" text-anchor="middle">P32</text>
<rect x="427.4" y="172" width="34.6" height="27.4" rx="1" fill="#fff" fill-opacity="0.85" stroke="#ececec" stroke-width="0.5"/>
<rect x="429.4" y="174.7" width="9.2" height="3" fill="#000000"/>
<text x="442.2" y="178.38" font-size="4.68">DLT</text>
<rect x="429.4" y="181.3" width="9.2" height="3" fill="#0000ff"/>
<text x="442.2" y="184.98" font-size="4.68">GA</text>
<rect x="429.4" y="188.1" width="9.2" height="3" fill="#008000"/>
<text x="442.2" y="191.78" font-size="4.68">PSO</text>
<rect x="429.4" y="194.7" width="9.2" height="3" fill="#ff0000"/>
<text x="442.2" y="198.38" font-size="4.68">IGAPSO</text></g>
<g><line x1="488.4" y1="169.9" x2="488.4" y2="321" stroke="#e9e9e9" stroke-width="0.8"/>
<line x1="510.3" y1="169.9" x2="510.3" y2="321" stroke="#e9e9e9" stroke-width="0.8"/>
<line x1="532.8" y1="169.9" x2="532.8" y2="321" stroke="#e9e9e9" stroke-width="0.8"/>
<line x1="476.5" y1="172.2" x2="544.7" y2="172.2" stroke="#e9e9e9" stroke-width="0.8"/>
<line x1="476.5" y1="195.28" x2="544.7" y2="195.28" stroke="#e9e9e9" stroke-width="0.8"/>
<line x1="476.5" y1="218.36" x2="544.7" y2="218.36" stroke="#e9e9e9" stroke-width="0.8"/>
<line x1="476.5" y1="241.44" x2="544.7" y2="241.44" stroke="#e9e9e9" stroke-width="0.8"/>
<line x1="476.5" y1="264.52" x2="544.7" y2="264.52" stroke="#e9e9e9" stroke-width="0.8"/>
<line x1="476.5" y1="287.6" x2="544.7" y2="287.6" stroke="#e9e9e9" stroke-width="0.8"/>
<line x1="476.5" y1="310.68" x2="544.7" y2="310.68" stroke="#e9e9e9" stroke-width="0.8"/>
<rect x="479.6" y="287.6" width="4.4" height="26.2" fill="#000000"/>
<rect x="484" y="287.6" width="4.4" height="26.2" fill="#0000ff"/>
<rect x="488.4" y="287.6" width="4.4" height="26.2" fill="#008000"/>
<rect x="492.8" y="287.6" width="4.4" height="26.2" fill="#ff0000"/>
<rect x="501.5" y="268" width="4.4" height="19.6" fill="#000000"/>
<rect x="505.9" y="268" width="4.4" height="19.6" fill="#0000ff"/>
<rect x="510.3" y="268" width="4.4" height="19.6" fill="#008000"/>
<rect x="514.7" y="267.4" width="4.4" height="20.2" fill="#ff0000"/>
<rect x="524" y="177.2" width="4.4" height="110.4" fill="#000000"/>
<rect x="528.4" y="177.2" width="4.4" height="110.4" fill="#0000ff"/>
<rect x="532.8" y="177.2" width="4.4" height="110.4" fill="#008000"/>
<rect x="537.2" y="181.2" width="4.4" height="106.4" fill="#ff0000"/>
<rect x="476.5" y="169.9" width="68.2" height="151.1" fill="none" stroke="#cfcfcf" stroke-width="1"/>
<line x1="475.1" y1="172.2" x2="476.5" y2="172.2" stroke="#999" stroke-width="0.4"/>
<text x="474.8" y="173.87" class="tk" font-size="3.8" text-anchor="end">1.0</text>
<line x1="475.1" y1="195.28" x2="476.5" y2="195.28" stroke="#999" stroke-width="0.4"/>
<text x="474.8" y="196.95" class="tk" font-size="3.8" text-anchor="end">0.8</text>
<line x1="475.1" y1="218.36" x2="476.5" y2="218.36" stroke="#999" stroke-width="0.4"/>
<text x="474.8" y="220.03" class="tk" font-size="3.8" text-anchor="end">0.6</text>
<line x1="475.1" y1="241.44" x2="476.5" y2="241.44" stroke="#999" stroke-width="0.4"/>
<text x="474.8" y="243.11" class="tk" font-size="3.8" text-anchor="end">0.4</text>
<line x1="475.1" y1="264.52" x2="476.5" y2="264.52" stroke="#999" stroke-width="0.4"/>
<text x="474.8" y="266.19" class="tk" font-size="3.8" text-anchor="end">0.2</text>
<line x1="475.1" y1="287.6" x2="476.5" y2="287.6" stroke="#999" stroke-width="0.4"/>
<text x="474.8" y="289.27" class="tk" font-size="3.8" text-anchor="end">0.0</text>
<line x1="475.1" y1="310.68" x2="476.5" y2="310.68" stroke="#999" stroke-width="0.4"/>
<text x="474.8" y="312.35" class="tk" font-size="3.8" text-anchor="end">−0.2</text>
<line x1="488.4" y1="321" x2="488.4" y2="322.4" stroke="#999" stroke-width="0.4"/>
<text x="488.4" y="325.42" class="tk" font-size="3.8" text-anchor="middle">P13</text>
<line x1="510.3" y1="321" x2="510.3" y2="322.4" stroke="#999" stroke-width="0.4"/>
<text x="510.3" y="325.42" class="tk" font-size="3.8" text-anchor="middle">P23</text>
<line x1="532.8" y1="321" x2="532.8" y2="322.4" stroke="#999" stroke-width="0.4"/>
<text x="532.8" y="325.42" class="tk" font-size="3.8" text-anchor="middle">P33</text></g>
<text x="149.7" y="165.08" font-size="4.68" text-anchor="middle">Parameters of Transformation Matrix</text>
<text x="427" y="166.48" font-size="4.68" text-anchor="middle">Parameters of Transformation Matrix</text>
<text x="149.2" y="329.68" font-size="4.68" text-anchor="middle">Parameters of Transformation Matrix</text>
<text x="426.7" y="330.88" font-size="4.68" text-anchor="middle">Parameters of Transformation Matrix</text>
<text transform="translate(36.68,81) rotate(-90)" font-size="4.68" text-anchor="middle">Parameter Value</text>
<text transform="translate(313.08,80.8) rotate(-90)" font-size="4.68" text-anchor="middle">Parameter Value</text>
<text transform="translate(37.08,245.4) rotate(-90)" font-size="4.68" text-anchor="middle">Parameter Value</text>
<text transform="translate(313.08,245.4) rotate(-90)" font-size="4.68" text-anchor="middle">Parameter Value</text>
<text class="pl" x="9.8" y="90.9" text-anchor="middle">(c)</text>
<text class="pl" x="287.2" y="90.9" text-anchor="middle">(d)</text>
<text class="pl" x="10.2" y="255.9" text-anchor="middle">(e)</text>
<text class="pl" x="287.6" y="255.9" text-anchor="middle" letter-spacing="0.5">(f)</text>
</g>
</svg>
</body></html>
